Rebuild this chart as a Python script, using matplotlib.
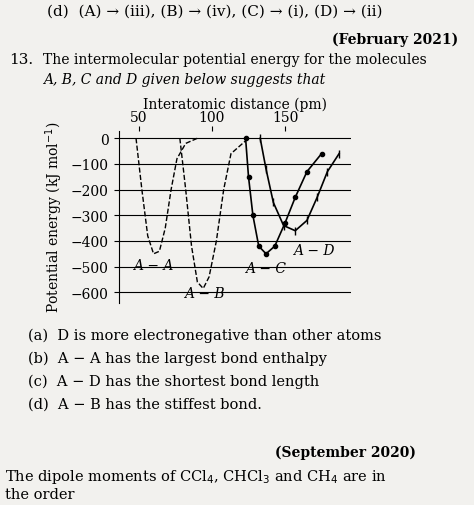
import matplotlib
matplotlib.use("Agg")
import matplotlib.pyplot as plt

AA_x = [48, 52, 56, 60, 64, 68, 72, 76, 82, 90]
AA_y = [0, -200, -380, -450, -440, -350, -200, -80, -20, 0]
AB_x = [78, 82, 86, 90, 94, 98, 103, 108, 113, 125]
AB_y = [0, -200, -420, -560, -585, -540, -400, -200, -60, 0]
AC_x = [123, 125, 128, 132, 137, 143, 150, 157, 165, 175]
AC_y = [0, -150, -300, -420, -450, -420, -330, -230, -130, -60]
AD_x = [133, 137, 142, 149, 157, 165, 172, 179, 187]
AD_y = [0, -120, -250, -340, -360, -320, -230, -130, -60]
yticks = [0, -100, -200, -300, -400, -500, -600]
xticks = [50, 100, 150]

fig = plt.figure(figsize=(4.74, 5.06), dpi=100)
fig.patch.set_facecolor("#f2f1ee")
ff = "DejaVu Serif"
fig.text(0.10, 0.99, "(d)  (A) → (iii), (B) → (iv), (C) → (i), (D) → (ii)", fontsize=11, family=ff, va="top")
fig.text(0.70, 0.935, "(February 2021)", fontsize=10, family=ff, weight="bold", va="top")
fig.text(0.02, 0.895, "13.", fontsize=11, family=ff, va="top")
fig.text(0.09, 0.895, "The intermolecular potential energy for the molecules", fontsize=10, family=ff, va="top")
fig.text(0.09, 0.855, "A, B, C and D given below suggests that", fontsize=10, family=ff, va="top", style="italic")

ax = fig.add_axes([0.25, 0.40, 0.49, 0.34])
ax.set_facecolor("#f2f1ee")
ax.plot(AA_x, AA_y, "k--", lw=1)
ax.plot(AB_x, AB_y, "k--", lw=1)
ax.plot(AC_x, AC_y, "k-", lw=1.2, marker="o", ms=3)
ax.plot(AD_x, AD_y, "k-", lw=1.2, marker="|", ms=6)
for y in yticks:
    ax.axhline(y, color="k", lw=0.8)
ax.set_xlim(36, 195)
ax.set_ylim(-640, 30)
ax.set_yticks(yticks)
ax.set_yticklabels(["0", "−100", "−200", "−300", "−400", "−500", "−600"], family=ff)
ax.xaxis.tick_top()
ax.xaxis.set_label_position("top")
ax.set_xticks(xticks)
ax.set_xticklabels([str(v) for v in xticks], family=ff)
ax.tick_params(axis="x", pad=1)
ax.set_xlabel("Interatomic distance (pm)", family=ff, labelpad=2)
ax.set_ylabel("Potential energy (kJ mol$^{-1}$)", family=ff)
for s in ["right", "bottom", "top"]:
    ax.spines[s].set_visible(False)
ax.text(60, -510, "A − A", ha="center", family=ff, style="italic")
ax.text(95, -620, "A − B", ha="center", family=ff, style="italic")
ax.text(137, -520, "A − C", ha="center", family=ff, style="italic")
ax.text(170, -450, "A − D", ha="center", family=ff, style="italic")

opts = ["(a)  D is more electronegative than other atoms",
        "(b)  A − A has the largest bond enthalpy",
        "(c)  A − D has the shortest bond length",
        "(d)  A − B has the stiffest bond."]
for i, t in enumerate(opts):
    fig.text(0.06, 0.35 - i * 0.045, t, fontsize=10.5, family=ff, va="top")
fig.text(0.58, 0.12, "(September 2020)", fontsize=10, family=ff, weight="bold", va="top")
fig.text(0.01, 0.075, "The dipole moments of CCl$_4$, CHCl$_3$ and CH$_4$ are in\nthe order", fontsize=10.5, family=ff, va="top")
fig.savefig("out.png", dpi=100, facecolor=fig.get_facecolor())
